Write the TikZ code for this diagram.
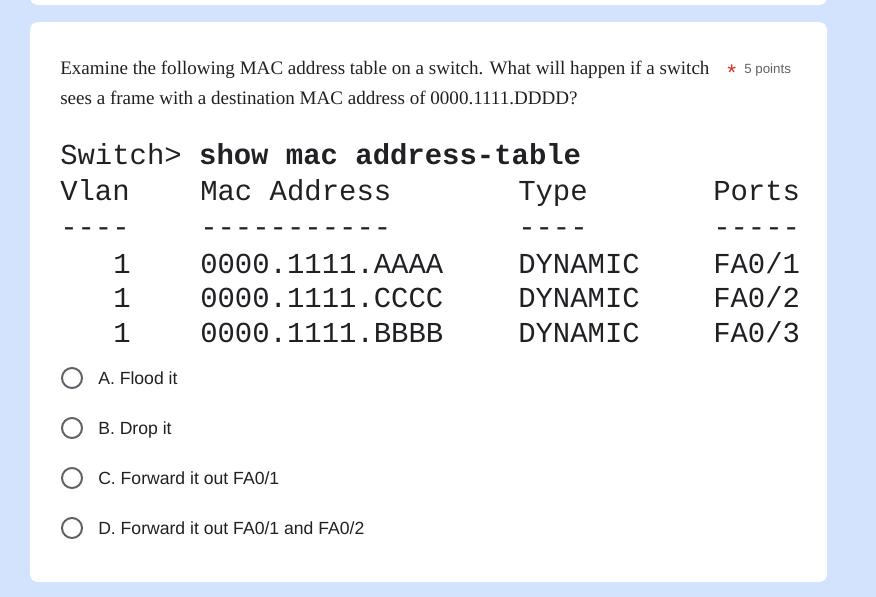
\documentclass[tikz,border=0pt]{standalone}
\usepackage{fontspec}
\setmainfont{Liberation Serif}
\setsansfont{Liberation Sans}
\setmonofont{Liberation Mono}
\definecolor{bg}{HTML}{D3E3FD}
\definecolor{txt}{HTML}{202124}
\definecolor{grey}{HTML}{5F6368}
\definecolor{star}{HTML}{D93025}
\begin{document}
\begin{tikzpicture}[x=0.75pt,y=-0.75pt,
  q/.style={anchor=base west,inner sep=0,font=\fontsize{14.3}{15}\selectfont,text=txt},
  m/.style={anchor=base west,inner sep=0,font=\ttfamily\fontsize{21.7}{24}\selectfont,text=txt},
  opt/.style={anchor=base west,inner sep=0,font=\sffamily\fontsize{13.2}{14}\selectfont,text=txt},
  radio/.style={circle,draw=grey,line width=1.5pt,minimum size=20*0.75pt,inner sep=0}]
\fill[bg] (0,0) rectangle (876,597);
\useasboundingbox (0,0) rectangle (876,597);
\fill[white,rounded corners=6] (30,-20) rectangle (827,5);
\fill[white,rounded corners=6] (30,22) rectangle (827,582);
\node[q] (q1) at (60,74) {Examine the following MAC address table on a switch. What will happen if a switch};
\node[q] (q2) at (60,104) {sees a frame with a destination MAC address of 0000.1111.DDDD?};
\node[anchor=base west,inner sep=0,text=star,font=\sffamily\fontsize{17}{17}\selectfont] (st) at (727,80) {*};
\node[anchor=base west,inner sep=0,text=grey,font=\sffamily\fontsize{10}{12}\selectfont] (pts) at (744,73) {5 points};
\node[m] (t0) at (60,164) {Switch> \textbf{show mac address-table}};
\node[m] (h1) at (60,200) {Vlan};
\node[m] (h2) at (200,200) {Mac Address};
\node[m] (h3) at (518,200) {Type};
\node[m] (h4) at (713,200) {Ports};
\node[m] (d1) at (60,236) {----};
\node[m] (d2) at (200,236) {-----------};
\node[m] (d3) at (518,236) {----};
\node[m] (d4) at (713,236) {-----};
\foreach \y/\mac/\p [count=\i] in {273/AAAA/1,307/CCCC/2,342/BBBB/3}{
  \node[m] (v\i) at (113,\y) {1};
  \node[m] (a\i) at (200,\y) {0000.1111.\mac};
  \node[m] (ty\i) at (518,\y) {DYNAMIC};
  \node[m] (p\i) at (713,\y) {FA0/\p};
}
\foreach \y/\t [count=\i] in {378/{A. Flood it},428/{B. Drop it},478/{C. Forward it out FA0/1},528/{D. Forward it out FA0/1 and FA0/2}}{
  \node[radio] (r\i) at (72,\y) {};
  \node[opt] (o\i) at (98,\y+6) {\t};
}
\end{tikzpicture}
\end{document}
